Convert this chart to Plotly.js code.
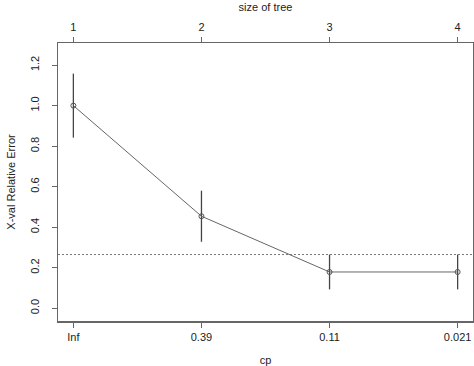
<!DOCTYPE html>
<html>
<head>
<meta charset="utf-8">
<script src="https://cdn.plot.ly/plotly-3.0.1.min.js"></script>
<style>html,body{margin:0;padding:0;background:#fff;}#chart{width:474px;height:366px;}</style>
</head>
<body>
<div id="chart"></div>
<script>
const position = [1, 2, 3, 4];
const cpLabels = ["Inf", "0.39", "0.11", "0.021"];
const treeSize = ["1", "2", "3", "4"];
const relError = [1.0, 0.454, 0.179, 0.179];
const stdErr = [0.158, 0.126, 0.086, 0.086];
const threshold = 0.265;

const axisColor = "#666";
const textFont = {family: "Liberation Sans, Arial, sans-serif", size: 11, color: "#222"};

const traces = [
  {
    x: position, y: relError, type: "scatter", mode: "lines+markers",
    line: {color: "#666", width: 1},
    marker: {symbol: "circle-open", size: 5, color: "#555", line: {width: 1}},
    error_y: {type: "data", array: stdErr, visible: true, color: "#444", thickness: 1.3, width: 0},
    showlegend: false, hoverinfo: "skip"
  },
  {
    x: position, y: relError.map(() => null), xaxis: "x2", type: "scatter",
    mode: "markers", showlegend: false, hoverinfo: "skip"
  }
];

const layout = {
  width: 474, height: 366,
  margin: {l: 58, r: 1, t: 43, b: 45},
  paper_bgcolor: "#fff", plot_bgcolor: "#fff",
  font: textFont,
  xaxis: {
    range: [0.88, 4.12], tickvals: position, ticktext: cpLabels,
    ticks: "outside", ticklen: 5, tickcolor: axisColor, tickwidth: 1,
    showline: true, linecolor: axisColor, linewidth: 1.5, mirror: true,
    showgrid: false, zeroline: false,
    title: {text: "cp", font: textFont, standoff: 16}
  },
  xaxis2: {
    range: [0.88, 4.12], tickvals: position, ticktext: treeSize,
    overlaying: "x", side: "top", anchor: "y",
    ticks: "outside", ticklen: 5, tickcolor: axisColor, tickwidth: 1,
    ticklabelstandoff: 2,
    showline: false, showgrid: false, zeroline: false,
    title: {text: "size of tree", font: textFont, standoff: 6}
  },
  yaxis: {
    range: [-0.063, 1.309], tickvals: [0, 0.2, 0.4, 0.6, 0.8, 1.0, 1.2],
    ticktext: ["0.0", "0.2", "0.4", "0.6", "0.8", "1.0", "1.2"],
    tickangle: -90, ticklabelstandoff: 8,
    ticks: "outside", ticklen: 5, tickcolor: axisColor, tickwidth: 1,
    showline: true, linecolor: axisColor, linewidth: 1.5, mirror: true,
    showgrid: false, zeroline: false,
    title: {text: "X-val Relative Error", font: textFont, standoff: 11}
  },
  shapes: [{
    type: "line", xref: "paper", x0: 0, x1: 1, yref: "y", y0: threshold, y1: threshold,
    line: {color: "#777", width: 1, dash: "2px,2px"}
  }]
};

Plotly.newPlot("chart", traces, layout, {staticPlot: true, displayModeBar: false});
</script>
</body>
</html>
